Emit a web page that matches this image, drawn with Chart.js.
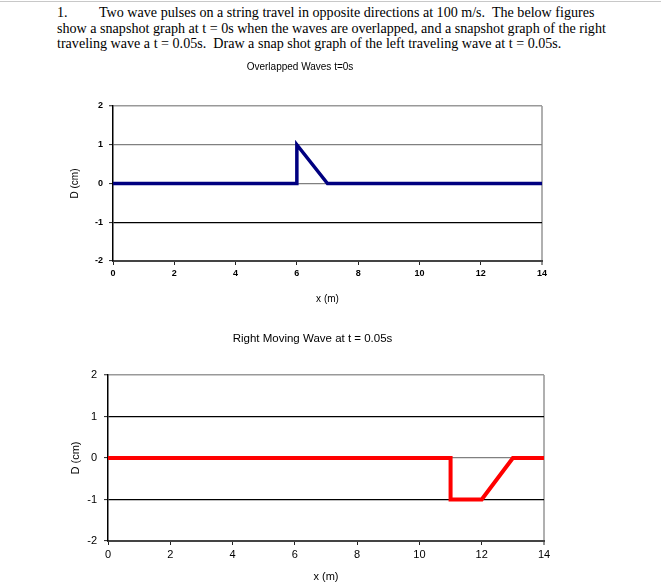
<!DOCTYPE html>
<html>
<head>
<meta charset="utf-8">
<script src="https://cdn.jsdelivr.net/npm/chart.js@4"></script>
<style>
  html, body { margin: 0; padding: 0; background: #fff; }
  body { width: 661px; height: 584px; position: relative; overflow: hidden; }
  #rule { position: absolute; left: 0; top: 1px; width: 661px; height: 1px; background: #c8c8c8; }
  #para { position: absolute; left: 57px; top: 5px; width: 600px; font-family: "Liberation Serif", "Times New Roman", serif; font-size: 14.1px; line-height: 15.5px; color: #000; white-space: nowrap; }
  #para .num { display: inline-block; width: 42px; }
  canvas { position: absolute; left: 0; }
  #c1 { top: 56px; }
  #c2 { top: 325px; }
</style>
</head>
<body>
<div id="rule"></div>
<div id="para"><span class="num">1.</span>Two wave pulses on a string travel in opposite directions at 100 m/s.&nbsp; The below figures<br>show a snapshot graph at t = 0s when the waves are overlapped, and a snapshot graph of the right<br>traveling wave a t = 0.05s.&nbsp; Draw a snap shot graph of the left traveling wave at t = 0.05s.</div>
<canvas id="c1" width="600" height="256" style="width:600px;height:256px"></canvas>
<canvas id="c2" width="625" height="259" style="width:625px;height:259px"></canvas>
<script>
// ---- data ----
const title1 = "Overlapped Waves t=0s";
const title2 = "Right Moving Wave at t = 0.05s";
const xTitle = "x (m)";
const yTitle = "D (cm)";
const overlapX = [0, 6, 6, 7, 14];
const overlapY = [0, 0, 1, 0, 0];
const rightX = [0, 11, 11, 12, 13, 14];
const rightY = [0, 0, -1, -1, 0, 0];
const xMin = 0, xMax = 14, xStep = 2;
const yMin = -2, yMax = 2, yStep = 1;

function pts(xs, ys) { return xs.map((x, i) => ({ x: x, y: ys[i] })); }

function makeChart(id, cfg) {
  const F = "'Liberation Sans', Arial, sans-serif";
  return new Chart(document.getElementById(id), {
    type: 'line',
    data: {
      datasets: [{
        data: pts(cfg.xs, cfg.ys),
        borderColor: cfg.color,
        borderWidth: cfg.lw,
        pointRadius: 0,
        tension: 0,
        borderJoinStyle: 'miter',
        fill: false
      }]
    },
    options: {
      responsive: false,
      animation: false,
      devicePixelRatio: 1,
      layout: { padding: { left: cfg.padLeft, right: cfg.padRight, top: 0, bottom: 0 } },
      plugins: {
        legend: { display: false },
        tooltip: { enabled: false },
        title: {
          display: true, text: cfg.title, color: '#000',
          font: { family: F, size: cfg.titleSize, weight: 'normal' },
          padding: { top: cfg.titleTop, bottom: cfg.titleBottom }
        }
      },
      scales: {
        x: {
          type: 'linear', min: xMin, max: xMax,
          afterFit: s => { s.height = cfg.xHeight; },
          ticks: { stepSize: xStep, color: '#000', padding: cfg.xTickPad, maxRotation: 0,
                   font: { family: F, size: cfg.tickSize, weight: cfg.tickWeight } },
          grid: {
            drawOnChartArea: true, drawTicks: true, tickLength: 4,
            color: c => (c.tick && c.tick.value === xMax) ? '#b0b0b0' : 'rgba(0,0,0,0)',
            lineWidth: c => (c.tick && c.tick.value === xMax) ? 2 : 1,
            tickColor: '#222', tickWidth: 1
          },
          border: { display: true, color: '#444', width: 2 },
          title: { display: true, text: xTitle, color: '#000',
                   font: { family: F, size: cfg.axisTitleSize },
                   padding: { top: 0, bottom: cfg.xTitlePad } }
        },
        y: {
          type: 'linear', min: yMin, max: yMax,
          afterFit: s => { s.width = cfg.yWidth; },
          ticks: { stepSize: yStep, color: '#000', padding: cfg.yTickPad,
                   font: { family: F, size: cfg.tickSize, weight: cfg.tickWeight } },
          grid: {
            drawTicks: true, tickLength: 4,
            color: c => cfg.gridColors[String(c.tick ? c.tick.value : 0)] || '#000',
            lineWidth: c => (c.tick && c.tick.value === yMax) ? 1.5 : 1.2,
            tickColor: '#222', tickWidth: 1
          },
          border: { display: true, color: '#000', width: 1.5 },
          title: { display: true, text: yTitle, color: '#000',
                   font: { family: F, size: cfg.axisTitleSize },
                   padding: { top: cfg.yTitlePad, bottom: 0 } }
        }
      }
    }
  });
}

makeChart('c1', {
  xs: overlapX, ys: overlapY, color: '#000080', lw: 3.5,
  title: title1, titleSize: 10, titleTop: 5, titleBottom: 33,
  padLeft: 58, padRight: 58, xHeight: 51, yWidth: 55,
  tickSize: 9, tickWeight: 'bold', xTickPad: 3.5, yTickPad: 6,
  axisTitleSize: 10, xTitlePad: 7, yTitlePad: 11,
  gridColors: { '2': '#999999', '1': '#808080', '0': '#808080', '-1': '#000000', '-2': '#444444' }
});

makeChart('c2', {
  xs: rightX, ys: rightY, color: '#ff0000', lw: 4,
  title: title2, titleSize: 11.5, titleTop: 7, titleBottom: 29.2,
  padLeft: 81, padRight: 81, xHeight: 43, yWidth: 27,
  tickSize: 11, tickWeight: 'normal', xTickPad: 3, yTickPad: 7,
  axisTitleSize: 11, xTitlePad: 0.4, yTitlePad: -11.6,
  gridColors: { '2': '#999999', '1': '#000000', '0': '#808080', '-1': '#000000', '-2': '#444444' }
});
</script>
</body>
</html>
